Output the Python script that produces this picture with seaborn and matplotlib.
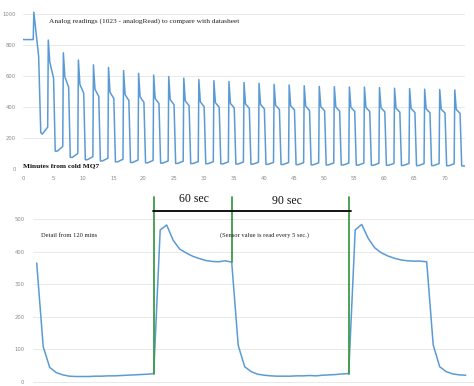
import numpy as np
import pandas as pd
import matplotlib
matplotlib.use("Agg")
import matplotlib.pyplot as plt
import seaborn as sns

# ---------------- data: top panel (minutes from cold) ----------------
# warm-up segment before the regular cycles
start_t = [0.0, 1.7, 1.8, 2.6, 2.95, 3.2, 4.1]
start_v = [835, 835, 1012, 725, 235, 225, 270]

# regular cycles: peak time, peak, shoulder, end of heating, trough low, trough end
peak_t = [4.2, 6.7, 9.2, 11.7, 14.2, 16.7, 19.2, 21.7, 24.2, 26.7, 29.2, 31.7, 34.2, 36.7,
          39.2, 41.7, 44.2, 46.7, 49.2, 51.7, 54.2, 56.7, 59.2, 61.7, 64.2, 66.7, 69.2, 71.7]
peak_v = [832, 750, 703, 672, 655, 635, 617, 606, 596, 586, 577, 570, 564, 558,
          553, 546, 542, 537, 533, 531, 529, 528, 525, 521, 519, 515, 513, 510]
shoulder_v = [690, 595, 545, 515, 495, 480, 465, 455, 448, 440, 433, 428, 423, 420,
              416, 411, 408, 405, 402, 400, 398, 397, 395, 392, 390, 388, 386, 384]
end_v = [585, 528, 490, 468, 455, 442, 430, 422, 415, 408, 402, 398, 394, 391,
         388, 384, 381, 378, 376, 374, 372, 371, 369, 367, 365, 363, 361, 359]
trough_low = [115, 75, 60, 52, 46, 42, 40, 38, 36, 35, 34, 33, 32, 31,
              30, 29, 28, 27, 26, 26, 25, 24, 24, 23, 22, 22, 21, 20]
trough_end = [145, 100, 80, 70, 63, 58, 55, 52, 50, 48, 47, 46, 45, 44,
              43, 42, 41, 40, 39, 38, 38, 37, 36, 36, 35, 35, 34, 20]
end_t = 73.4

# ---------------- data: bottom panel (samples every 5 s, from 120 min) ----------------
detail_v = [365, 108, 44, 28, 21, 17, 16, 16, 16, 17, 17, 18, 18, 19, 20, 21, 22, 23, 25,
            467, 482, 435, 408, 396, 386, 379, 373, 370, 369, 372, 368,
            112, 46, 31, 23, 20, 18, 17, 17, 17, 18, 18, 19, 18, 20, 21, 22, 24, 25,
            467, 484, 441, 412, 397, 387, 380, 375, 372, 371, 371, 369,
            113, 46, 31, 24, 21, 20]
marks = [18, 30, 48]

top_xticks = list(range(0, 75, 5))
top_yticks = [0, 200, 400, 600, 800, 1000]
bot_yticks = [0, 100, 200, 300, 400, 500]

# ---------------- build top series from the read key points ----------------
tx = list(start_t)
ty = list(start_v)
for k in range(len(peak_t)):
    tp = peak_t[k]
    tx += [tp, tp + 0.25, tp + 0.88, tp + 1.15, tp + 1.5]
    ty += [peak_v[k], shoulder_v[k], end_v[k], trough_low[k], trough_low[k]]
    if k < len(peak_t) - 1:
        tx += [tp + 2.4]
        ty += [trough_end[k]]
    else:
        tx += [end_t]
        ty += [trough_end[k]]
top_df = pd.DataFrame({"t": tx, "v": ty})
bot_df = pd.DataFrame({"i": np.arange(len(detail_v)), "v": detail_v})

# ---------------- style ----------------
sns.set_style("white")
plt.rcParams["font.family"] = ["DejaVu Sans"]
blue = "#5b9bd5"
green = "#3f9a48"
grid_c = "#e9e9e9"
tick_c = "#8a8a8a"
serif = ["Liberation Serif", "DejaVu Serif"]

fig = plt.figure(figsize=(4.74, 3.86), dpi=100)
W, H = 474, 386

def px_axes(left, right, top, bottom):
    return fig.add_axes([left / W, (H - bottom) / H, (right - left) / W, (bottom - top) / H])

# top axes: x 0 -> 23px, 73.4 -> 465px ; y 0 -> 169px, 1060 -> 4.7px
ax1 = px_axes(23, 465, 4.7, 169)
ax1.set_xlim(0, end_t)
ax1.set_ylim(0, 1060)
for yv in top_yticks:
    ax1.axhline(yv, color=grid_c, lw=0.7, zorder=0)
sns.lineplot(data=top_df, x="t", y="v", ax=ax1, color=blue, lw=1.1, sort=False, estimator=None)
ax1.set_xticks(top_xticks)
ax1.set_yticks(top_yticks)
ax1.tick_params(axis="both", length=0, labelsize=3.8, labelcolor=tick_c)
ax1.tick_params(axis="x", pad=5)
ax1.tick_params(axis="y", pad=5)
ax1.set_xlabel("")
ax1.set_ylabel("")
for s in ax1.spines.values():
    s.set_visible(False)
ax1.text(4.3, 955, "Analog readings (1023 - analogRead) to compare with datasheet",
         family=serif, fontsize=5.3, va="center", ha="left", color="#222222")
ax1.text(0.0, 21, "Minutes from cold MQ7", family=serif, fontsize=5.3, fontweight="bold",
         va="center", ha="left", color="#111111")

# bottom axes: i -> 36.7 + 6.5 i px ; y 0 -> 381.7px, 0.325 px/unit
ax2 = px_axes(36.7 - 0.6 * 6.5, 474, 381.7 - 570 * 0.325, 381.7 + 13 * 0.325)
ax2.set_xlim(-0.6, (474 - 36.7) / 6.5)
ax2.set_ylim(-13, 570)
for yv in bot_yticks:
    ax2.axhline(yv, color=grid_c, lw=0.7, zorder=0)
sns.lineplot(data=bot_df, x="i", y="v", ax=ax2, color=blue, lw=1.1, sort=False, estimator=None)
ax2.set_xticks([])
ax2.set_yticks(bot_yticks)
ax2.tick_params(axis="y", length=0, labelsize=3.8, labelcolor=tick_c, pad=6)
ax2.set_xlabel("")
ax2.set_ylabel("")
for s in ax2.spines.values():
    s.set_visible(False)

# markers: green verticals, black span line, labels
ax2.plot([marks[0], marks[0]], [detail_v[marks[0]], 568], color=green, lw=1.3, clip_on=False, zorder=3)
ax2.plot([marks[1], marks[1]], [detail_v[marks[1]], 568], color=green, lw=1.3, clip_on=False, zorder=3)
ax2.plot([marks[2], marks[2]], [detail_v[marks[2]], 568], color=green, lw=1.3, clip_on=False, zorder=3)
ax2.plot([17.9, 48.4], [526, 526], color="black", lw=1.3, clip_on=False, zorder=4)
ax2.text(24.2, 561, "60 sec", family=serif, fontsize=8.5, ha="center", va="center", color="#111111")
ax2.text(38.5, 557, "90 sec", family=serif, fontsize=8.5, ha="center", va="center", color="#111111")
ax2.text(0.65, 451, "Detail from 120 mins", family=serif, fontsize=4.7, ha="left", va="center", color="#222222")
ax2.text(28.2, 451, "(Sensor value is read every 5 sec.)", family=serif, fontsize=4.7,
         ha="left", va="center", color="#222222")

fig.savefig("out.png", dpi=100)
